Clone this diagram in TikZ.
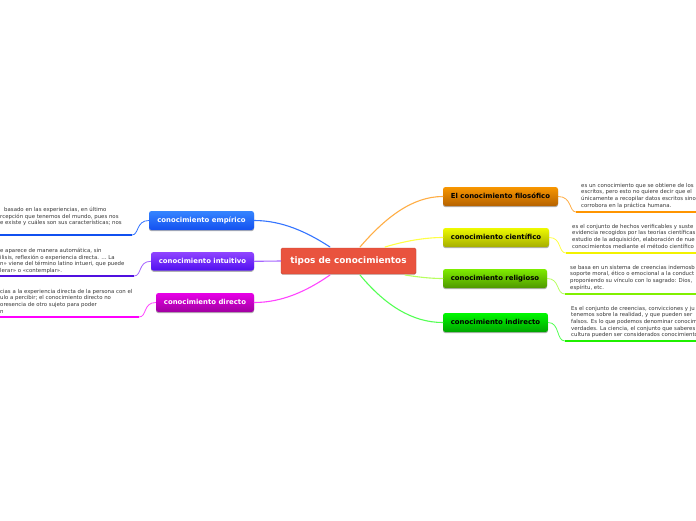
\documentclass[tikz,border=0pt]{standalone}
\usepackage{fontspec}
\setmainfont{DejaVu Sans}
\usetikzlibrary{shadows}
\tikzset{
  topic/.style={rounded corners=2.5pt,inner sep=0pt,text height=5pt,text depth=1.3pt,align=center,
    font=\fontsize{6.9}{8}\selectfont\bfseries,drop shadow={shadow xshift=0pt,shadow yshift=-1.2pt,opacity=.3,fill=black}},
  darktopic/.style={topic,text=black},
  lighttopic/.style={topic,text=white},
  rootnode/.style={rounded corners=1.5pt,inner sep=0pt,draw=#1!85!black,line width=.4pt,fill=#1,text=white,
    font=\fontsize{8.9}{10}\selectfont\bfseries,drop shadow={shadow xshift=0pt,shadow yshift=-.8pt,opacity=.2,fill=black}},
  note/.style={anchor=north west,inner sep=0pt,align=left,text=black!78,font=\fontsize{5.4}{6.65}\selectfont},
  link/.style={line width=1.1pt,line cap=round},
  twig/.style={line width=.8pt},
  rule/.style={line width=2.2pt},
}
\definecolor{rootc}{HTML}{E9533E}
\definecolor{oa}{HTML}{F89600}\definecolor{ob}{HTML}{B56200}\definecolor{ol}{HTML}{FFAE45}\definecolor{or}{HTML}{FF9500}
\definecolor{ya}{HTML}{EEFA00}\definecolor{yb}{HTML}{A5AE00}\definecolor{yl}{HTML}{FFFF45}\definecolor{yr}{HTML}{F2F200}
\definecolor{ga}{HTML}{7EEC00}\definecolor{gb}{HTML}{4F9800}\definecolor{gl}{HTML}{B8FF60}\definecolor{gr}{HTML}{80F000}
\definecolor{ia}{HTML}{00F800}\definecolor{ib}{HTML}{00A500}\definecolor{il}{HTML}{55FF55}\definecolor{ir}{HTML}{20F000}
\definecolor{ea}{HTML}{3585FF}\definecolor{eb}{HTML}{1450F0}\definecolor{el}{HTML}{3575FF}\definecolor{er}{HTML}{1050F0}
\definecolor{ua}{HTML}{9045FF}\definecolor{ub}{HTML}{5010F0}\definecolor{ul}{HTML}{A565FF}\definecolor{ur}{HTML}{5010E0}
\definecolor{da}{HTML}{E800E8}\definecolor{db}{HTML}{A000A0}\definecolor{dl}{HTML}{FF45FF}\definecolor{dr}{HTML}{FF00FF}
\begin{document}
\begin{tikzpicture}[x=1pt,y=-1pt]
\useasboundingbox (0,0) rectangle (696,520);
\clip (0,0) rectangle (696,520);
\fill[white] (0,0) rectangle (696,520);

% root anchors for the connectors
\coordinate (rNEa) at (360,247);
\coordinate (rNEb) at (385,247);
\coordinate (rSEb) at (405,275);
\coordinate (rSEa) at (360,275);
\coordinate (rNW) at (330,247);
\coordinate (rSW) at (330,275);

% free ends of the rules
\coordinate (k1) at (576,212);\coordinate (e1) at (696,212);
\coordinate (k2) at (566,253);\coordinate (e2) at (696,253);
\coordinate (k3) at (565,294);\coordinate (e3) at (696,294);
\coordinate (k4) at (565,341);\coordinate (e4) at (696,341);
\coordinate (k5) at (132,235);\coordinate (e5) at (0,235);
\coordinate (k6) at (134,276);\coordinate (e6) at (0,276);
\coordinate (k7) at (139,317);\coordinate (e7) at (0,317);

% topics
\node[darktopic,minimum width=115pt,minimum height=19pt,top color=oa,bottom color=ob] (n1) at (500.5,196.5) {El conocimiento filosófico};
\node[darktopic,minimum width=106pt,minimum height=19pt,top color=ya,bottom color=yb] (n2) at (496,237.5) {conocimiento científico};
\node[darktopic,minimum width=104pt,minimum height=19pt,top color=ga,bottom color=gb] (n3) at (495,278.5) {conocimiento religioso};
\node[darktopic,minimum width=105pt,minimum height=19pt,top color=ia,bottom color=ib] (n4) at (495.5,322.5) {conocimiento indirecto};
\node[lighttopic,minimum width=105pt,minimum height=19pt,top color=ea,bottom color=eb] (n5) at (201.5,220.5) {conocimiento empírico};
\node[lighttopic,minimum width=103pt,minimum height=18.5pt,top color=ua,bottom color=ub] (n6) at (202.5,261.3) {conocimiento intuitivo};
\node[lighttopic,minimum width=98pt,minimum height=19pt,top color=da,bottom color=db] (n7) at (205,302.5) {conocimiento directo};

% root
\node[rootnode=rootc,minimum width=135pt,minimum height=26pt] (root) at (348.5,261) {tipos de conocimientos};

% root links
\draw[link,ol] (rNEa) .. controls (385,218) and (412,196.5) .. (n1.west);
\draw[link,yl] (rNEb) .. controls (405,241) and (425,237.5) .. (n2.west);
\draw[link,gl] (rSEb) .. controls (418,277) and (430,278.5) .. (n3.west);
\draw[link,il] (rSEa) .. controls (385,305) and (412,322.5) .. (n4.west);
\draw[link,el] (rNW) .. controls (307,232) and (282,220.5) .. (n5.east);
\draw[link,ul] (root.west) -- (n6.east);
\draw[link,dl] (rSW) .. controls (307,291) and (282,302.5) .. (n7.east);

% twigs
\draw[twig,ol] (n1.east) .. controls (572,196.5) and (569,212) .. (k1);
\draw[twig,yl] (n2.east) .. controls (562,237.5) and (558,253) .. (k2);
\draw[twig,gl] (n3.east) .. controls (560,278.5) and (556,294) .. (k3);
\draw[twig,il] (n4.east) .. controls (560,322.5) and (556,341) .. (k4);
\draw[twig,el] (n5.west) .. controls (136,220.5) and (139,235) .. (k5);
\draw[twig,ul] (n6.west) .. controls (138,261.3) and (142,276) .. (k6);
\draw[twig,dl] (n7.west) .. controls (143,302.5) and (147,317) .. (k7);

% rules
\draw[rule,or] (k1) -- (e1);
\draw[rule,yr] (k2) -- (e2);
\draw[rule,gr] (k3) -- (e3);
\draw[rule,ir] (k4) -- (e4);
\draw[rule,er] (k5) -- (e5);
\draw[rule,ur] (k6) -- (e6);
\draw[rule,dr] (k7) -- (e7);

% notes
\node[note] (t1) at (581,183) {es un conocimiento que se obtiene de los\\escritos, pero esto no quiere decir que el\\únicamente a recopilar datos escritos sino\\corrobora en la práctica humana.};
\node[note] (t2) at (572,224) {es el conjunto de hechos verificables y suste\\evidencia recogidos por las teorías científicas\\estudio de la adquisición, elaboración de nue\\conocimientos mediante el método científico};
\node[note] (t3) at (570,265) {se basa en un sistema de creencias indemosb\\soporte moral, ético o emocional a la conduct\\proponiendo su vínculo con lo sagrado: Dios,\\espíritu, etc.};
\node[note] (t4) at (571,306) {Es el conjunto de creencias, convicciones y ju\\tenemos sobre la realidad, y que pueden ser\\falsos. Es lo que podemos denominar conocim\\verdades. La ciencia, el conjunto que saberes\\cultura pueden ser considerados conocimiento};
\node[note] (t5) at (0,207) {\hspace*{4pt}basado en las experiencias, en último\\rcepción que tenemos del mundo, pues nos\\e existe y cuáles son sus características; nos};
\node[note] (t6) at (0,248) {e aparece de manera automática, sin\\ilisis, reflexión o experiencia directa. … La\\n» viene del término latino intueri, que puede\\lerar» o «contemplar».};
\node[note] (t7) at (0,289) {cias a la experiencia directa de la persona con el\\ulo a percibir; el conocimiento directo no\\oresencia de otro sujeto para poder\\n};
\end{tikzpicture}
\end{document}
